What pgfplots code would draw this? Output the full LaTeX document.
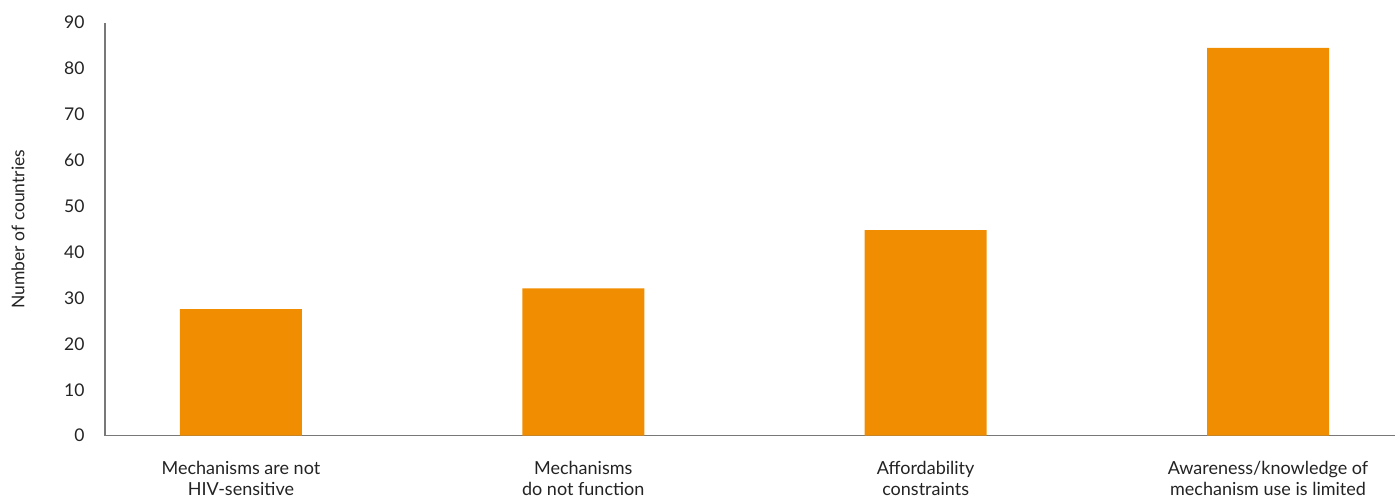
\documentclass[border=0pt]{standalone}
\usepackage{pgfplots}
\pgfplotsset{compat=1.18}
\usepackage{fontspec}
\setmainfont{Lato}
\definecolor{barorange}{RGB}{241,141,0}
\definecolor{axgray}{RGB}{120,120,120}
\definecolor{txt}{RGB}{35,35,35}
\begin{document}
\begin{tikzpicture}
\begin{axis}[
  at={(105pt,62.3pt)}, anchor=south west,
  scale only axis,
  width=1290pt, height=413pt,
  xmin=-0.397, xmax=3.371,
  ymin=0, ymax=90,
  ytick={0,10,...,90},
  xtick=data,
  xticklabels={{Mechanisms are not\\HIV-sensitive},{Mechanisms\\do not function},{Affordability\\constraints},{Awareness/knowledge of\\mechanism use is limited}},
  axis x line*=bottom, axis y line*=left,
  axis line style={axgray, line width=1.3pt},
  major tick length=0pt,
  /pgf/number format/assume math mode=true,
  yticklabel style={font=\fontsize{17.5}{20}\selectfont, text=txt, xshift=-17pt},
  xticklabel style={font=\fontsize{18}{21}\selectfont, text=txt, align=center, yshift=-22pt},
  ylabel={Number of countries},
  every axis y label/.style={at={(rel axis cs:0,0.5)}, rotate=90, anchor=center, yshift=87pt, font=\fontsize{17.5}{20}\selectfont, text=txt},
  clip=false,
]
\addplot[ybar, bar width=122pt, fill=barorange, draw=none] coordinates {(0,27.6) (1,32.1) (2,44.8) (3,84.5)};
\end{axis}
\pgfresetboundingbox
\path (0,0) rectangle (1395pt,498pt);
\end{tikzpicture}
\end{document}
